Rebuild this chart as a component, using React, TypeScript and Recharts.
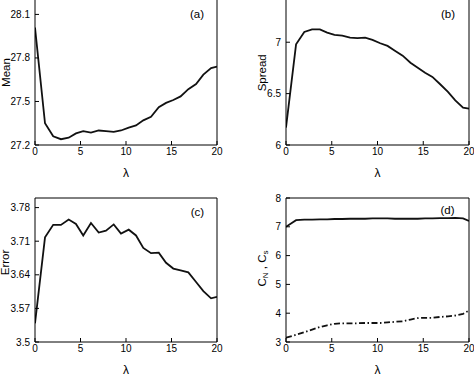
import React from "react";
import { LineChart, Line, XAxis, YAxis } from "recharts";

// lambda sample points
const lambdaVals = [0, 1.1, 2, 2.85, 3.7, 4.5, 5.3, 6.15, 7, 7.8, 8.65, 9.45, 10.3, 11.1, 11.9, 12.75, 13.6, 14.4, 15.2, 16, 16.85, 17.7, 18.5, 19.35, 20];

const meanVals = [28.01, 27.35, 27.26, 27.24, 27.25, 27.28, 27.295, 27.285, 27.3, 27.295, 27.29, 27.3, 27.32, 27.335, 27.37, 27.395, 27.46, 27.49, 27.51, 27.535, 27.585, 27.62, 27.685, 27.73, 27.74];
const spreadVals = [6.17, 6.98, 7.1, 7.125, 7.125, 7.094, 7.072, 7.065, 7.045, 7.039, 7.045, 7.023, 6.99, 6.964, 6.918, 6.869, 6.8, 6.751, 6.702, 6.663, 6.591, 6.516, 6.434, 6.363, 6.353];
const errorVals = [3.539, 3.718, 3.744, 3.744, 3.755, 3.746, 3.722, 3.748, 3.728, 3.732, 3.745, 3.726, 3.734, 3.722, 3.696, 3.685, 3.686, 3.665, 3.653, 3.649, 3.645, 3.625, 3.606, 3.591, 3.594];
const cnVals = [7.0, 7.23, 7.25, 7.25, 7.26, 7.26, 7.27, 7.27, 7.28, 7.28, 7.28, 7.29, 7.29, 7.29, 7.28, 7.28, 7.28, 7.28, 7.29, 7.29, 7.3, 7.3, 7.31, 7.29, 7.2];
const csVals = [3.15, 3.25, 3.34, 3.43, 3.52, 3.58, 3.63, 3.65, 3.65, 3.65, 3.66, 3.66, 3.66, 3.68, 3.7, 3.72, 3.78, 3.83, 3.84, 3.84, 3.87, 3.89, 3.92, 3.98, 4.09];

const xTicks = [0, 5, 10, 15, 20];
const meanTicks = [27.2, 27.5, 27.8, 28.1];
const spreadTicks = [6, 6.5, 7];
const errorTicks = [3.5, 3.57, 3.64, 3.71, 3.78];
const cTicks = [3, 4, 5, 6, 7, 8];

const data = lambdaVals.map((x, i) => ({
  x,
  mean: meanVals[i],
  spread: spreadVals[i],
  error: errorVals[i],
  cn: cnVals[i],
  cs: csVals[i],
}));

const FONT = "'Liberation Sans', Arial, Helvetica, sans-serif";

type Series = { key: string; dash?: string };

interface PanelProps {
  left: number;
  top: number;
  height: number;
  margin: { top: number; right: number; bottom: number; left: number };
  yWidth: number;
  xHeight: number;
  yDomain: [number, number];
  yTicks: number[];
  series: Series[];
  yTitle: React.ReactNode;
  titleDx: number;
  titleDy: number;
}

function Panel({ left, top, height, margin, yWidth, xHeight, yDomain, yTicks, series, yTitle, titleDx, titleDy }: PanelProps) {
  return (
    <div style={{ position: "absolute", left, top }}>
      <LineChart width={237} height={height} data={data} margin={margin}>
        <XAxis
          xAxisId="b"
          dataKey="x"
          type="number"
          domain={[0, 20]}
          ticks={xTicks}
          interval={0}
          allowDataOverflow
          height={xHeight}
          stroke="#000"
          tickSize={-4}
          tickMargin={7}
          tick={{ fill: "#000", fontSize: 10, fontFamily: FONT }}
          label={(p: any) => {
            const vb = p.viewBox;
            return (
              <text x={vb.x + vb.width / 2} y={vb.y + 28} textAnchor="middle" dominantBaseline="central" fontSize={12} fontFamily={FONT} fill="#000">
                λ
              </text>
            );
          }}
        />
        <XAxis xAxisId="t" orientation="top" mirror dataKey="x" type="number" domain={[0, 20]} ticks={xTicks} tick={false} tickSize={4} stroke="#000" height={10} />
        <YAxis
          yAxisId="l"
          type="number"
          domain={yDomain}
          ticks={yTicks}
          interval={0}
          allowDataOverflow
          width={yWidth}
          stroke="#000"
          tickSize={-4}
          tickMargin={9}
          tick={{ fill: "#000", fontSize: 10, fontFamily: FONT }}
          label={(p: any) => {
            const vb = p.viewBox;
            const cx = vb.x + titleDx;
            const cy = vb.y + vb.height / 2 + titleDy;
            return (
              <text x={cx} y={cy} transform={`rotate(-90 ${cx} ${cy})`} textAnchor="middle" dominantBaseline="central" fontSize={11.5} fontFamily={FONT} fill="#000">
                {yTitle}
              </text>
            );
          }}
        />
        <YAxis yAxisId="r" orientation="right" mirror type="number" domain={yDomain} ticks={yTicks} tick={false} tickSize={4} stroke="#000" width={10} allowDataOverflow />
        {series.map((s) => (
          <Line
            key={s.key}
            xAxisId="b"
            yAxisId="l"
            type="linear"
            dataKey={s.key}
            stroke="#111"
            strokeWidth={1.8}
            strokeDasharray={s.dash}
            dot={false}
            activeDot={false}
            isAnimationActive={false}
          />
        ))}
      </LineChart>
    </div>
  );
}

const tagStyle = (x: number, y: number): React.CSSProperties => ({
  position: "absolute",
  left: x,
  top: y,
  transform: "translate(-50%, -50%)",
  fontSize: 11.5,
  fontFamily: FONT,
  color: "#000",
  lineHeight: 1,
  whiteSpace: "nowrap",
});

export default function App() {
  return (
    <div style={{ position: "fixed", left: 0, top: 0, width: 474, height: 376, overflow: "hidden", background: "#fff" }}>
      <Panel left={0} top={-4} height={192} margin={{ top: 1, right: 20, bottom: 0, left: 0 }} yWidth={35} xHeight={43} yDomain={[27.2, 28.22]} yTicks={meanTicks} series={[{ key: "mean" }]} yTitle="Mean" titleDx={5.5} titleDy={1.5} />
      <Panel left={237} top={-4} height={192} margin={{ top: 1, right: 5, bottom: 0, left: 0 }} yWidth={49} xHeight={43} yDomain={[6, 7.44]} yTicks={spreadTicks} series={[{ key: "spread" }]} yTitle="Spread" titleDx={25} titleDy={1.8} />
      <Panel left={0} top={188} height={188} margin={{ top: 10, right: 20, bottom: 0, left: 0 }} yWidth={35} xHeight={34} yDomain={[3.5, 3.8]} yTicks={errorTicks} series={[{ key: "error" }]} yTitle="Error" titleDx={4.5} titleDy={-7.5} />
      <Panel
        left={237}
        top={188}
        height={188}
        margin={{ top: 10, right: 5, bottom: 0, left: 0 }}
        yWidth={49}
        xHeight={34}
        yDomain={[3, 8]}
        yTicks={cTicks}
        series={[{ key: "cn" }, { key: "cs", dash: "6 2.5 1.5 2.5" }]}
        yTitle={
          <>
            C<tspan fontSize={8} dy={3}>N</tspan>
            <tspan dy={-3}> , C</tspan>
            <tspan fontSize={8} dy={3}>s</tspan>
          </>
        }
        titleDx={25}
        titleDy={-1.5}
      />
      <div style={tagStyle(197, 15)}>(a)</div>
      <div style={tagStyle(448, 15.3)}>(b)</div>
      <div style={tagStyle(197.5, 213.3)}>(c)</div>
      <div style={tagStyle(447.5, 211.3)}>(d)</div>
    </div>
  );
}
